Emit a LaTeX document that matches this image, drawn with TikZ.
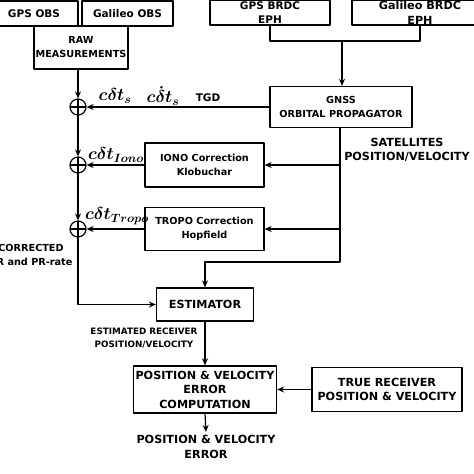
\documentclass[tikz,border=0pt]{standalone}
\usepackage{fontspec}
\setmainfont{DejaVu Sans}
\usetikzlibrary{arrows.meta,positioning,calc}
\newcommand{\blkfont}{\fontsize{10.5}{14}\selectfont\bfseries}
\tikzset{every picture/.style={line cap=round, line join=round}}
\tikzset{box/.style={draw, rectangle, align=center, line width=1.3pt, inner sep=1pt}}
\tikzset{arrow/.style={-{Stealth[length=7pt,width=6pt]}, line width=1.2pt}}
\tikzset{line/.style={draw, line width=1.2pt}}
\tikzset{sum/.style={circle, draw, line width=1.2pt, minimum size=16pt, inner sep=0pt,
  path picture={\draw[line width=1.2pt] (path picture bounding box.north) -- (path picture bounding box.south)
    (path picture bounding box.west) -- (path picture bounding box.east);}}}
\tikzset{lg/.style={font=\fontsize{11.2}{14.5}\selectfont\bfseries}}
\tikzset{sm/.style={font=\fontsize{9.7}{14}\selectfont\bfseries}}
\tikzset{mathlbl/.style={font=\fontsize{17}{19}\selectfont\boldmath, inner sep=0pt}}
\tikzset{smalllbl/.style={font=\fontsize{8.8}{13}\selectfont\bfseries}}

\begin{document}
\begin{tikzpicture}[x=1pt, y=-1pt, font=\blkfont, every node/.style={align=center}]
  \useasboundingbox (0,0) rectangle (474,474);

  % 観測データ
  \node[box, minimum width=88, minimum height=25] (gpsobs) at (34,13.5) {GPS OBS};
  \node[box, minimum width=91, minimum height=25] (galobs) at (127.5,13.5) {Galileo OBS};
  \node[box, sm, minimum width=94, minimum height=43] (raw) at (81,47.5) {RAW\\MEASUREMENTS};

  % 放送暦
  \node[box, minimum width=120, minimum height=25, inner sep=0pt] (gpseph) at (270,12.5) {GPS BRDC\\EPH};
  \node[box, lg, minimum width=136, minimum height=25, inner sep=0pt] (galeph) at (420,12.5) {Galileo BRDC\\EPH};
  \coordinate (ephj) at (342,41);
  \draw[line] (gpseph.south) |- (ephj) -| (galeph.south);
  \node[box, sm, minimum width=142, minimum height=41] (gnss) at (341,107) {GNSS\\ORBITAL PROPAGATOR};
  \draw[arrow] (ephj) -- (gnss.north -| ephj);

  % 補正
  \node[box, sm, minimum width=119, minimum height=44] (iono) at (204.5,165) {IONO Correction\\Klobuchar};
  \node[box, sm, minimum width=119, minimum height=43] (tropo) at (204.5,229) {TROPO Correction\\Hopfield};
  \node[box, lg, minimum width=97, minimum height=33] (est) at (205,304.5) {ESTIMATOR};
  \coordinate (satj) at (340,262);
  \draw[arrow] (gnss.south -| satj) -- (satj) -| (est.north);
  \draw[arrow] (iono.east -| satj) -- (iono.east);
  \draw[arrow] (tropo.east -| satj) -- (tropo.east);
  \node[lg] (satlbl) at (407,150) {SATELLITES\\POSITION/VELOCITY};

  % 加算点
  \node[sum] (sum1) at (78,107) {};
  \node[sum] (sum2) at (78,165) {};
  \node[sum] (sum3) at (78,229) {};
  \draw[arrow] (raw.south -| sum1) -- (sum1);
  \draw[arrow] (gnss.west) -- (sum1);
  \draw[arrow] (sum1) -- (sum2);
  \draw[arrow] (sum2) -- (sum3);
  \draw[arrow] (iono.west) -- (sum2);
  \draw[arrow] (tropo.west) -- (sum3);
  \draw[arrow] (sum3) |- (est.west);
  \node[mathlbl] (dts) at (115,96) {$c\delta t_s$};
  \node[mathlbl] (dtsdot) at (163,96) {$c\dot{\delta}t_s$};
  \node (tgd) at (208,98) {TGD};
  \node[mathlbl] (dtiono) at (116,155) {$c\delta t_{Iono}$};
  \node[mathlbl] (dttropo) at (117,216) {$c\delta t_{Tropo}$};
  \node[sm] (corrlbl) at (31,255) {CORRECTED\\PR and PR-rate};

  % 誤差計算
  \node[smalllbl] (estlbl) at (144,338) {ESTIMATED RECEIVER\\POSITION/VELOCITY};
  \node[box, lg, minimum width=143, minimum height=47] (pverr) at (205,389.5)
       {POSITION \& VELOCITY\\ERROR\\COMPUTATION};
  \node[box, lg, minimum width=150, minimum height=44] (truth) at (387,389.5)
       {TRUE RECEIVER\\POSITION \& VELOCITY};
  \draw[arrow] (est.south) -- (pverr.north);
  \draw[arrow] (truth.west) -- (pverr.east);
  \node[lg] (pvout) at (206,447) {POSITION \& VELOCITY\\ERROR};
  \draw[arrow] (pverr.south) -- (pvout.north);
\end{tikzpicture}
\end{document}
